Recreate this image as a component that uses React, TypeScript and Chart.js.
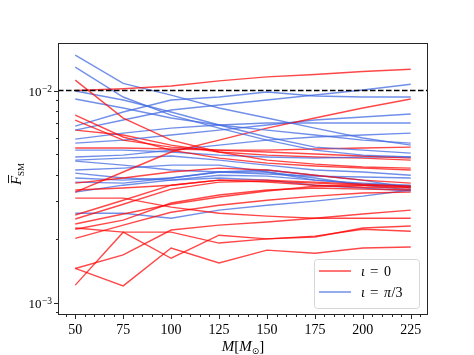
import React, { useEffect, useRef } from "react";
import { Chart, registerables } from "chart.js";

Chart.register(...registerables);

// ---- data ----
const MASSES = [50, 75, 100, 125, 150, 175, 200, 225];
const X_TICKS = [50, 75, 100, 125, 150, 175, 200, 225];
const Y_MAJOR = [1e-3, 1e-2];
const THRESHOLD = 1e-2;
const X_RANGE = [41, 234];
const Y_RANGE = [8.75e-4, 1.675e-2];
const UNIT = 1e-3; // series values below are in units of 1e-3

// iota = 0
const RED_SERIES = [
  [10.0, 10.2, 10.5, 11.1, 11.6, 11.9, 12.3, 12.6],
  [11.2, 7.42, 5.84, 5.13, 4.70, 4.50, 4.36, 4.31],
  [7.66, 6.04, 5.24, 4.80, 4.55, 4.41, 4.31, 4.22],
  [7.26, 5.84, 5.41, 5.24, 5.24, 5.30, 5.36, 5.41],
  [5.36, 5.36, 5.30, 5.24, 5.13, 5.02, 4.91, 4.80],
  [3.32, 4.13, 5.13, 5.84, 6.65, 7.42, 8.27, 9.12],
  [3.66, 3.87, 4.13, 4.31, 4.22, 3.99, 3.78, 3.66],
  [3.40, 3.47, 3.58, 3.78, 3.70, 3.58, 3.50, 3.47],
  [3.11, 3.11, 2.82, 2.64, 2.56, 2.50, 2.50, 2.50],
  [2.59, 3.04, 3.58, 3.78, 3.78, 3.70, 3.62, 3.54],
  [2.48, 2.91, 3.43, 3.70, 3.74, 3.66, 3.58, 3.50],
  [2.35, 2.62, 2.91, 3.15, 3.36, 3.54, 3.58, 3.54],
  [2.22, 2.45, 2.95, 3.22, 3.40, 3.47, 3.43, 3.40],
  [2.01, 2.32, 2.67, 2.88, 3.04, 3.18, 3.29, 3.32],
  [2.25, 2.15, 2.15, 1.91, 2.00, 2.06, 2.22, 2.17],
  [1.21, 2.15, 1.62, 2.08, 2.00, 2.04, 2.25, 2.30],
  [1.45, 1.20, 1.81, 1.54, 1.77, 1.71, 1.81, 1.83],
  [1.45, 1.68, 2.20, 2.32, 2.40, 2.50, 2.62, 2.73],
  [6.51, 6.17, 5.53, 5.13, 4.96, 4.86, 4.80, 4.70],
];

// iota = pi/3
const BLUE_SERIES = [
  [14.7, 10.8, 9.52, 8.27, 7.42, 6.65, 5.97, 5.53],
  [12.9, 9.32, 7.66, 6.65, 5.84, 5.24, 4.96, 4.86],
  [9.95, 9.02, 7.92, 6.88, 6.04, 5.41, 5.24, 5.07],
  [9.12, 8.27, 7.42, 6.88, 6.51, 6.17, 5.84, 5.65],
  [6.80, 7.92, 9.02, 9.32, 9.84, 9.42, 9.32, 9.32],
  [6.51, 7.26, 8.09, 8.54, 9.02, 9.52, 10.05, 10.7],
  [5.90, 6.30, 6.65, 6.88, 7.03, 7.03, 7.03, 7.03],
  [5.65, 5.84, 6.17, 6.51, 6.88, 7.26, 7.50, 7.75],
  [4.86, 4.96, 5.24, 5.53, 5.84, 6.04, 6.17, 6.30],
  [4.65, 4.45, 4.22, 4.13, 4.04, 3.95, 3.91, 3.87],
  [4.22, 4.31, 4.45, 4.45, 4.13, 3.78, 3.62, 3.54],
  [4.08, 3.87, 3.78, 3.99, 3.95, 3.78, 3.66, 3.58],
  [3.87, 3.78, 3.87, 4.13, 4.22, 3.99, 3.78, 3.47],
  [3.70, 3.66, 3.87, 4.13, 4.13, 3.87, 3.58, 3.40],
  [3.32, 3.58, 3.78, 3.87, 3.78, 3.58, 3.47, 3.36],
  [2.64, 2.64, 2.50, 2.73, 2.88, 3.01, 3.18, 3.40],
  [5.24, 5.24, 5.13, 4.96, 4.86, 4.80, 4.86, 4.86],
  [4.70, 4.80, 4.91, 4.70, 4.45, 4.22, 4.13, 3.99],
];

const RED = "rgba(255, 0, 0, 0.72)";
const BLUE = "rgba(65, 105, 225, 0.75)";
const SERIF = "'Liberation Serif', 'DejaVu Serif', serif";

function drawPieces(ctx: CanvasRenderingContext2D, pieces: [string, string, number][], startX: number, baseY: number) {
  let x = startX;
  for (const [t, font, dy] of pieces) {
    ctx.font = font;
    ctx.fillText(t, x, baseY + dy);
    x += ctx.measureText(t).width;
  }
  return x;
}

function piecesWidth(ctx: CanvasRenderingContext2D, pieces: [string, string, number][]) {
  let w = 0;
  for (const [t, font] of pieces) {
    ctx.font = font;
    w += ctx.measureText(t).width;
  }
  return w;
}

const decor = {
  id: "decor",
  afterDraw(chart: any) {
    const ctx: CanvasRenderingContext2D = chart.ctx;
    const a = chart.chartArea;
    const xs = chart.scales.x;
    const ys = chart.scales.y;
    ctx.save();

    // frame
    ctx.strokeStyle = "#262626";
    ctx.lineWidth = 1;
    ctx.strokeRect(a.left + 0.5, a.top + 0.5, a.right - a.left - 1, a.bottom - a.top - 1);

    // tick marks
    ctx.beginPath();
    for (const v of X_TICKS) {
      const px = Math.round(xs.getPixelForValue(v)) + 0.5;
      ctx.moveTo(px, a.bottom);
      ctx.lineTo(px, a.bottom + 4);
    }
    for (let v = 45; v <= 230; v += 5) {
      if (v % 25 === 0) continue;
      const px = Math.round(xs.getPixelForValue(v)) + 0.5;
      ctx.moveTo(px, a.bottom);
      ctx.lineTo(px, a.bottom + 2);
    }
    for (const v of Y_MAJOR) {
      const py = Math.round(ys.getPixelForValue(v)) + 0.5;
      ctx.moveTo(a.left, py);
      ctx.lineTo(a.left - 4, py);
    }
    for (const dec of [1e-4, 1e-3, 1e-2]) {
      for (let k = 2; k <= 9; k++) {
        const v = k * dec;
        if (v < Y_RANGE[0] || v > Y_RANGE[1]) continue;
        const py = Math.round(ys.getPixelForValue(v)) + 0.5;
        ctx.moveTo(a.left, py);
        ctx.lineTo(a.left - 2, py);
      }
    }
    ctx.stroke();

    // x tick labels
    ctx.fillStyle = "#000";
    ctx.textBaseline = "alphabetic";
    ctx.textAlign = "center";
    ctx.font = `14px ${SERIF}`;
    for (const v of X_TICKS) {
      ctx.fillText(String(v), xs.getPixelForValue(v), a.bottom + 18.5);
    }

    // y tick labels 10^n
    ctx.textAlign = "left";
    for (const v of Y_MAJOR) {
      const py = ys.getPixelForValue(v);
      const exp = Math.round(Math.log10(v));
      const sup = (exp < 0 ? "\u2212" : "") + Math.abs(exp);
      ctx.font = `9.5px ${SERIF}`;
      const ws = ctx.measureText(sup).width;
      ctx.font = `13px ${SERIF}`;
      const wb = ctx.measureText("10").width;
      const right = a.left - 6;
      ctx.fillText("10", right - ws - wb - 0.5, py + 5.5);
      ctx.font = `9.5px ${SERIF}`;
      ctx.fillText(sup, right - ws, py + 1);
    }

    // x axis title: M[M_sun]
    const xt: [string, string, number][] = [
      ["M", `italic 15px ${SERIF}`, 0],
      ["[", `15px ${SERIF}`, 0],
      ["M", `italic 15px ${SERIF}`, 0],
      ["\u2299", `9px 'DejaVu Sans', sans-serif`, 3],
      ["]", `15px ${SERIF}`, 0],
    ];
    const xw = piecesWidth(ctx, xt);
    drawPieces(ctx, xt, (a.left + a.right) / 2 - xw / 2, 351);

    // y axis title: bar F _SM
    ctx.save();
    ctx.translate(16, 174);
    ctx.rotate(-Math.PI / 2);
    const yt: [string, string, number][] = [
      ["F", `italic 15px ${SERIF}`, 0],
      ["SM", `9px ${SERIF}`, 2.5],
    ];
    const yw = piecesWidth(ctx, yt);
    const x0 = -yw / 2;
    drawPieces(ctx, yt, x0, 5);
    ctx.font = `italic 15px ${SERIF}`;
    const fw = ctx.measureText("F").width;
    ctx.beginPath();
    ctx.lineWidth = 0.9;
    ctx.strokeStyle = "#000";
    ctx.moveTo(x0 + 2, -7.5);
    ctx.lineTo(x0 + fw + 1, -7.5);
    ctx.stroke();
    ctx.restore();

    // legend
    const bw = 105, bh = 49;
    const bx = a.right - 9 - bw;
    const by = a.bottom - 7 - bh;
    ctx.beginPath();
    if ((ctx as any).roundRect) (ctx as any).roundRect(bx + 0.5, by + 0.5, bw, bh, 3);
    else ctx.rect(bx + 0.5, by + 0.5, bw, bh);
    ctx.fillStyle = "rgba(255,255,255,0.8)";
    ctx.fill();
    ctx.strokeStyle = "#d6d6d6";
    ctx.lineWidth = 1;
    ctx.stroke();

    ctx.lineWidth = 1.5;
    ctx.strokeStyle = RED;
    ctx.beginPath();
    ctx.moveTo(bx + 5, by + 12);
    ctx.lineTo(bx + 37, by + 12);
    ctx.stroke();
    ctx.strokeStyle = BLUE;
    ctx.beginPath();
    ctx.moveTo(bx + 5, by + 33);
    ctx.lineTo(bx + 37, by + 33);
    ctx.stroke();

    ctx.fillStyle = "#000";
    ctx.textAlign = "left";
    const tx = bx + 47;
    const l1 = by + 17;
    const l2 = by + 38;
    ctx.font = `italic 14px ${SERIF}`;
    ctx.fillText("\u03B9", tx, l1);
    ctx.fillText("\u03B9", tx, l2);
    ctx.font = `15px ${SERIF}`;
    ctx.fillText("=", tx + 9, l1);
    ctx.fillText("=", tx + 9, l2);
    ctx.font = `14px ${SERIF}`;
    ctx.fillText("0", tx + 23, l1);
    ctx.font = `italic 14px ${SERIF}`;
    ctx.fillText("\u03C0", tx + 23, l2);
    const pw = ctx.measureText("\u03C0").width;
    ctx.font = `14px ${SERIF}`;
    ctx.fillText("/3", tx + 23 + pw + 0.5, l2);

    ctx.restore();
  },
};

function makeSeries(values: number[], color: string) {
  return {
    data: values.map((v, i) => ({ x: MASSES[i], y: v * UNIT })),
    borderColor: color,
    backgroundColor: color,
    borderWidth: 1.4,
    pointRadius: 0,
    tension: 0,
    fill: false,
    order: 1,
  };
}

export default function App() {
  const ref = useRef<HTMLCanvasElement>(null);
  useEffect(() => {
    document.body.style.margin = "0";
    const canvas = ref.current;
    if (!canvas) return;
    const datasets: any[] = [
      {
        data: [
          { x: X_RANGE[0], y: THRESHOLD },
          { x: X_RANGE[1], y: THRESHOLD },
        ],
        borderColor: "#000",
        borderWidth: 1.6,
        borderDash: [5.5, 2.5],
        pointRadius: 0,
        fill: false,
        order: 0,
      },
    ];
    const n = Math.max(RED_SERIES.length, BLUE_SERIES.length);
    for (let i = 0; i < n; i++) {
      if (RED_SERIES[i]) datasets.push(makeSeries(RED_SERIES[i], RED));
      if (BLUE_SERIES[i]) datasets.push(makeSeries(BLUE_SERIES[i], BLUE));
    }
    const chart = new Chart(canvas, {
      type: "line",
      data: { datasets },
      options: {
        responsive: false,
        animation: false,
        events: [],
        layout: { padding: { left: 58, top: 43, right: 46, bottom: 40 } },
        scales: {
          x: { type: "linear", min: X_RANGE[0], max: X_RANGE[1], display: false },
          y: { type: "logarithmic", min: Y_RANGE[0], max: Y_RANGE[1], display: false },
        },
        plugins: { legend: { display: false }, tooltip: { enabled: false } },
      },
      plugins: [decor],
    } as any);
    return () => chart.destroy();
  }, []);
  return (
    <div style={{ position: "fixed", left: 0, top: 0, width: 474, height: 355, background: "#fff" }}>
      <canvas ref={ref} width={474} height={355} style={{ display: "block" }} />
    </div>
  );
}
